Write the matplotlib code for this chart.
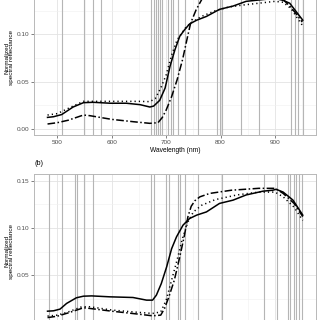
import matplotlib

matplotlib.use("Agg")
import matplotlib.pyplot as plt
from matplotlib.ticker import FixedLocator, MultipleLocator

plt.rcParams["font.family"] = ["Liberation Sans", "DejaVu Sans"]

# Panel (a): selected bands and mean spectra
bands_a = [508, 549, 565, 581, 673, 677, 681, 685, 688, 692, 704, 708, 712,
           721, 734, 759, 794, 798, 802, 838, 871, 929, 936, 942, 951]
wl_solid_a = [482, 493, 508, 529, 548, 566, 597, 627, 652, 670, 677, 688, 698,
              707, 716, 725, 734, 743, 756, 774, 798, 823, 847, 880, 900, 915,
              927, 939, 951]
solid_a = [0.012, 0.0127, 0.015, 0.023, 0.0276, 0.028, 0.027, 0.027, 0.0255,
           0.023, 0.024, 0.030, 0.043, 0.066, 0.0835, 0.098, 0.105, 0.111,
           0.115, 0.119, 0.1265, 0.130, 0.135, 0.137, 0.138, 0.136, 0.133,
           0.124, 0.115]
wl_dot_a = [482, 500, 529, 548, 600, 650, 670, 680, 690, 700, 710, 720, 735,
            745, 765, 790, 815, 840, 870, 900, 915, 930, 940, 951]
dot_a = [0.0145, 0.016, 0.024, 0.029, 0.029, 0.029, 0.0287, 0.032, 0.043,
         0.057, 0.078, 0.094, 0.1065, 0.112, 0.119, 0.125, 0.129, 0.131,
         0.133, 0.135, 0.134, 0.127, 0.118, 0.109]
wl_dash_a = [482, 500, 520, 548, 560, 600, 640, 670, 685, 693, 700, 710, 720,
             730, 740, 745, 755, 765, 775, 790, 820, 860, 890, 905, 915, 930,
             940, 950]
dash_a = [0.005, 0.0064, 0.009, 0.0145, 0.0138, 0.0099, 0.0074, 0.0057,
          0.0064, 0.012, 0.0198, 0.034, 0.0517, 0.073, 0.0994, 0.112, 0.126,
          0.1366, 0.143, 0.148, 0.151, 0.152, 0.148, 0.142, 0.137, 0.128,
          0.121, 0.113]

# Panel (b)
bands_b = [484, 508, 533, 537, 549, 565, 673, 677, 699, 706, 722, 725, 734,
           759, 803, 880, 903, 924, 928, 934, 938, 944, 949]
wl_solid_b = [482, 493, 505, 517, 535, 548, 563, 597, 639, 664, 675, 682, 691,
              701, 710, 719, 731, 743, 756, 774, 798, 823, 847, 878, 896, 902,
              915, 933, 951]
solid_b = [0.0118, 0.0122, 0.014, 0.020, 0.026, 0.0277, 0.028, 0.027, 0.0263,
           0.0235, 0.0235, 0.0288, 0.041, 0.059, 0.078, 0.0906, 0.103, 0.110,
           0.1136, 0.117, 0.126, 0.1295, 0.135, 0.139, 0.140, 0.141, 0.138,
           0.1295, 0.1136]
wl_dot_b = [482, 500, 520, 545, 560, 600, 650, 675, 690, 700, 710, 720, 730,
            740, 750, 765, 790, 830, 870, 900, 915, 935, 951]
dot_b = [0.0066, 0.0076, 0.011, 0.0165, 0.0165, 0.013, 0.0105, 0.0094, 0.011,
         0.0235, 0.0447, 0.066, 0.089, 0.1065, 0.117, 0.124, 0.130, 0.135,
         0.138, 0.138, 0.133, 0.122, 0.108]
wl_dash_b = [482, 500, 520, 548, 560, 600, 650, 675, 690, 697, 705, 715, 725,
             733, 740, 746, 753, 762, 780, 820, 870, 900, 915, 935, 951]
dash_b = [0.005, 0.0065, 0.010, 0.0154, 0.0147, 0.0118, 0.0086, 0.0069,
          0.0076, 0.0147, 0.027, 0.0447, 0.0694, 0.0906, 0.112, 0.123, 0.129,
          0.133, 0.1366, 0.140, 0.142, 0.142, 0.1366, 0.126, 0.112]

GRID_MAJOR = "#e3e3e3"
GRID_MINOR = "#f0f0f0"
BORDER = "#b8b8b8"
BAND = "#b5b5b5"
TICK_TEXT = "#4d4d4d"


def draw_panel(ax, bands, solid, dot, dash, yticks):
    ax.set_xlim(457, 975)
    ax.set_ylim(-0.0067, 0.1571)
    ax.xaxis.set_major_locator(MultipleLocator(100))
    ax.xaxis.set_minor_locator(MultipleLocator(50))
    ax.yaxis.set_major_locator(FixedLocator(yticks))
    ax.yaxis.set_minor_locator(MultipleLocator(0.025))
    ax.grid(which="major", color=GRID_MAJOR, linewidth=0.6)
    ax.grid(which="minor", color=GRID_MINOR, linewidth=0.4)
    ax.set_axisbelow(True)
    for b in bands:
        ax.axvline(b, color=BAND, linewidth=0.8, zorder=1)
    ax.plot(*solid, color="black", linewidth=1.1, zorder=3)
    ax.plot(*dot, color="black", linewidth=1.1, linestyle=(0, (0.8, 2.0)),
            zorder=3)
    ax.plot(*dash, color="black", linewidth=1.1,
            linestyle=(0, (5.0, 1.6, 1.0, 1.6)), zorder=3)
    ax.yaxis.set_major_formatter(lambda v, p: f"{v:.2f}")
    ax.tick_params(which="major", length=2, width=0.5, color=TICK_TEXT,
                   labelsize=4.6, labelcolor=TICK_TEXT, pad=1.5)
    ax.tick_params(which="minor", length=0)
    for s in ax.spines.values():
        s.set_color(BORDER)
        s.set_linewidth(0.7)
    ax.set_ylabel("Normalized\nspectral reflectance", fontsize=4.6,
                  labelpad=1.5, linespacing=1.0)


fig = plt.figure(figsize=(3.2, 3.2), dpi=100)
ax_a = fig.add_axes([0.106, 0.578, 0.881, 0.483])
ax_b = fig.add_axes([0.106, -0.027, 0.881, 0.483])

draw_panel(ax_a, bands_a, (wl_solid_a, solid_a), (wl_dot_a, dot_a),
           (wl_dash_a, dash_a), [0.0, 0.05, 0.10])
draw_panel(ax_b, bands_b, (wl_solid_b, solid_b), (wl_dot_b, dot_b),
           (wl_dash_b, dash_b), [0.05, 0.10, 0.15])
ax_b.tick_params(axis="x", labelbottom=False)
ax_a.set_xlabel("Wavelength (nm)", fontsize=4.8, labelpad=1.5)
fig.text(0.109, 0.479, "(b)", fontsize=5.2, ha="left", va="bottom")

fig.savefig("out.png", dpi=100, facecolor="white")
